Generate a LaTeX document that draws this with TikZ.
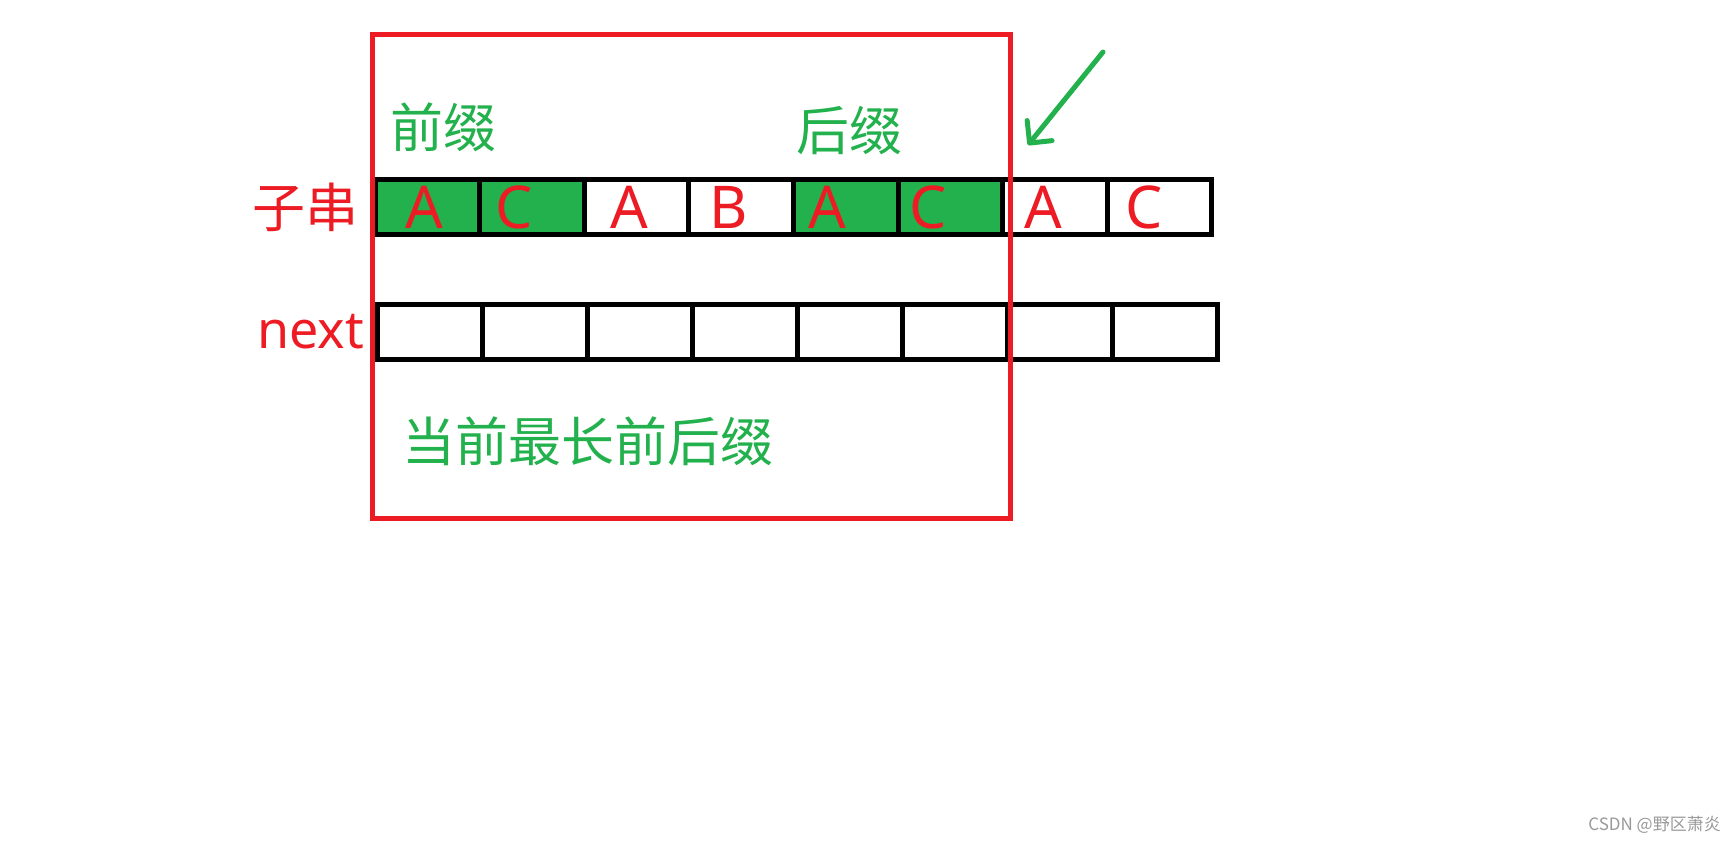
\documentclass[tikz,border=0pt]{standalone}
\usepackage{fontspec}
\setmainfont{Noto Sans}
\newfontfamily\cjk{Noto Sans CJK SC}
\usetikzlibrary{arrows.meta}
\definecolor{pred}{RGB}{237,28,36}
\definecolor{pgreen}{RGB}{34,177,76}
\tikzstyle{cell} = [draw,line width=5pt,minimum width=104.6pt,minimum height=55pt,inner sep=0pt,text=pred,font=\fontsize{59}{60}\selectfont]
\tikzstyle{ncell} = [cell,minimum width=105.1pt,minimum height=55.5pt]
\tikzstyle{lab} = [inner sep=0pt,font=\cjk\fontsize{53}{60}\selectfont]
\tikzstyle{frame} = [draw=pred,line width=5pt]
\tikzstyle{arrow} = [pgreen,line width=5pt,line cap=round,-{Straight Barb[length=16pt,width=32pt,round]}]

\begin{document}
\begin{tikzpicture}[x=1pt,y=-1pt]
  \useasboundingbox (0,0) rectangle (1736,842);
  \foreach \c/\d/\f [count=\i] in {A/6/pgreen,C/36/pgreen,A/15/white,B/24/white,A/36/pgreen,C/44/pgreen,A/24/white,C/31/white}
    \node[cell,fill=\f] (s\i) at (375+104.6*\i-52.3,207.5) {\c\hspace*{\d pt}};
  \foreach \i in {1,...,8}
    \node[ncell] (n\i) at (377+105.1*\i-52.55,332) {};
  \draw[frame] (372,35) rectangle (1010,518.5);
  \node[lab,text=pred] (sub) at (305,207.5) {子串};
  \node[inner sep=0pt,anchor=base west,text=pred,font=\fontsize{52}{60}\selectfont] (nxt) at (257,348) {next};
  \node[lab,text=pgreen] (pre) at (443,127.5) {前缀};
  \node[lab,text=pgreen] (suf) at (849,131) {后缀};
  \node[lab,text=pgreen] (cur) at (588,441) {当前最长前后缀};
  \coordinate (tail) at (1103,52);
  \coordinate (head) at (1028,145);
  \draw[arrow] (tail) -- (head);
  \node[inner sep=0pt,anchor=east,text=black!40,font=\cjk\fontsize{17}{20}\selectfont] (mark) at (1721,825) {CSDN @野区萧炎};
\end{tikzpicture}
\end{document}
